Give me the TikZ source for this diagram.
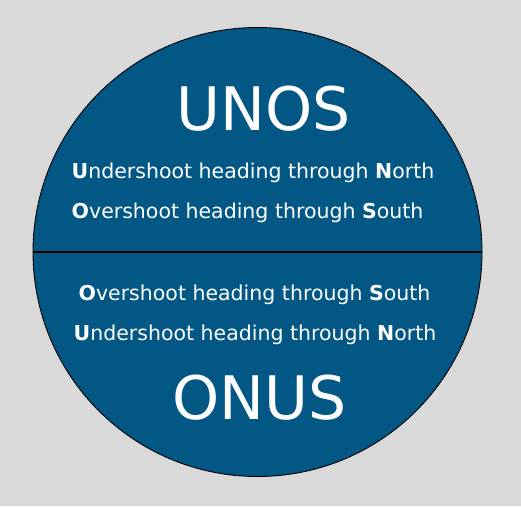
\documentclass[tikz,border=0pt]{standalone}
\usepackage{fontspec}
\setmainfont{DejaVu Sans}
\definecolor{discblue}{HTML}{025785}
\definecolor{backgray}{HTML}{D9D9D9}

\begin{document}
\begin{tikzpicture}[x=1pt,y=-1pt,
  title/.style={text=white,inner sep=0pt,anchor=base,font=\fontsize{60}{60}\selectfont},
  heading/.style={text=white,inner sep=0pt,anchor=base,font=\fontsize{20.5}{20.5}\selectfont}]
\fill[backgray] (0,0) rectangle (521,506);
\useasboundingbox (0,0) rectangle (521,506);
\node[circle,draw=black,line width=0.9pt,fill=discblue,minimum size=449pt,inner sep=0pt] (disc) at (257.5,252) {};
\draw[line width=2.6pt,shorten <=0.5pt,shorten >=0.5pt] (disc.west)--(disc.east);
% upper half
\node[title] (unos) at (263.5,130) {UNOS};
\node[heading] (upN) at (253,178) {\textbf{U}ndershoot heading through \textbf{N}orth};
\node[heading,anchor=base west] (upS) at (upN.base west) [yshift=-40pt] {\textbf{O}vershoot heading through \textbf{S}outh};
% lower half
\node[heading] (loS) at (254.5,300) {\textbf{O}vershoot heading through \textbf{S}outh};
\node[heading] (loN) at (255,340) {\textbf{U}ndershoot heading through \textbf{N}orth};
\node[title] (onus) at (259.5,419) {ONUS};
\end{tikzpicture}
\end{document}
